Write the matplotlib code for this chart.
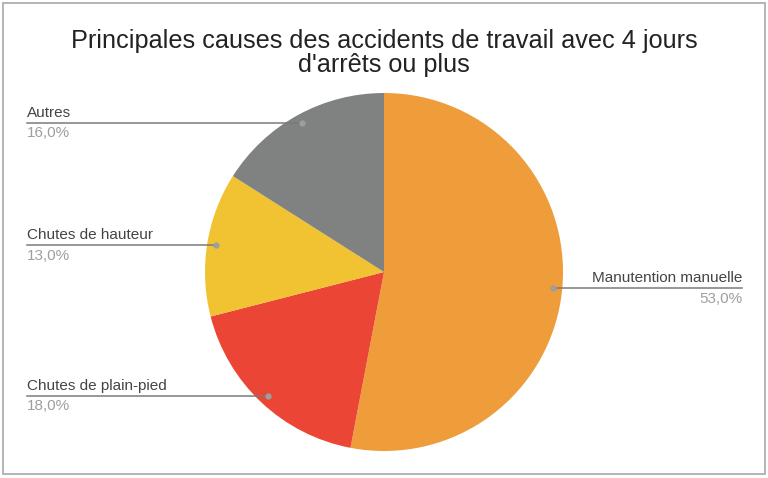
import numpy as np
import matplotlib.pyplot as plt
from matplotlib.patches import Rectangle

plt.rcParams['font.family'] = ['Liberation Sans', 'DejaVu Sans']

# data
labels = ['Manutention manuelle', 'Chutes de plain-pied', 'Chutes de hauteur', 'Autres']
values = [53.0, 18.0, 13.0, 16.0]
colors = ['#EF9C3A', '#EA4535', '#F1C232', '#7F8281']
title = "Principales causes des accidents de travail avec 4 jours\nd'arrêts ou plus"

W, H = 768, 478
fig = plt.figure(figsize=(W / 100, H / 100), dpi=100)
ax = fig.add_axes([0, 0, 1, 1])

cx, cy, r = 384, H - 272, 179
ax.pie(values, colors=colors, startangle=90, counterclock=False,
       center=(cx, cy), radius=r, frame=True,
       wedgeprops=dict(linewidth=0))

ax.set_xlim(0, W)
ax.set_ylim(0, H)
ax.set_aspect('auto')
ax.axis('off')

# chart border
ax.add_patch(Rectangle((3, 4), 762, 471, fill=False, edgecolor='#a8a8a8', linewidth=1.2))

ax.text(384, H - 53, title, ha='center', va='center', fontsize=18.2, color='#222222',
        linespacing=0.95)

# leader lines and labels
cum = 0
for lab, v in zip(labels, values):
    mid = np.deg2rad(90 - 360 * (cum + v / 2) / 100)
    cum += v
    dx = cx + 0.95 * r * np.cos(mid)
    dy = cy + 0.95 * r * np.sin(mid)
    ax.plot(dx, dy, 'o', color='#9e9e9e', markersize=3.5, zorder=5)
    pct = f'{v:.1f}%'.replace('.', ',')
    if np.cos(mid) > 0:
        x0, x1, tx, ha = dx, 742, 742, 'right'
    else:
        x0, x1, tx, ha = 27, dx, 27, 'left'
    ax.plot([x0, x1], [dy, dy], color='#7a7a7a', linewidth=1.1, zorder=4)
    ax.text(tx, dy + 3, lab, ha=ha, va='bottom', fontsize=11, color='#444444')
    ax.text(tx, dy - 3.5, pct, ha=ha, va='top', fontsize=11, color='#9e9e9e')

fig.savefig('out.png', dpi=100)
